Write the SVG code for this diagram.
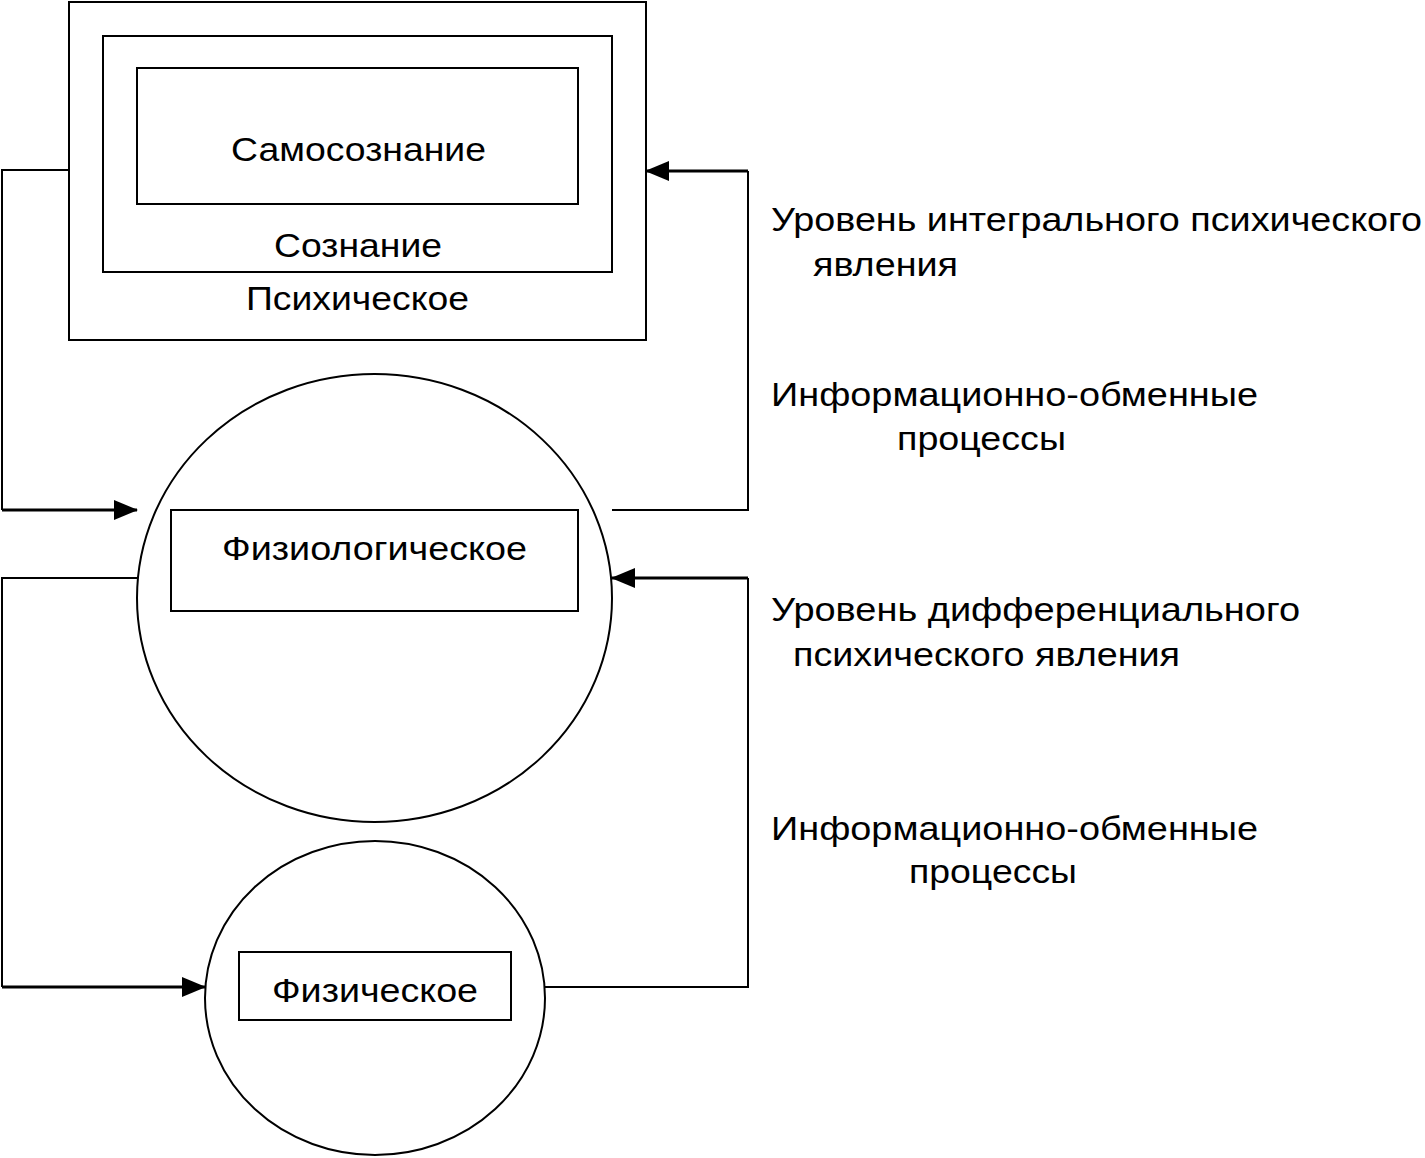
<svg xmlns="http://www.w3.org/2000/svg" width="1425" height="1158" viewBox="0 0 1425 1158">
<style>
.s{fill:none;stroke:#000;stroke-width:2}
.a{fill:none;stroke:#000;stroke-width:3}
text{font-family:"Liberation Sans",Arial,sans-serif;font-size:33px;fill:#000}
</style>
<defs>
<marker id="ab" markerWidth="24" markerHeight="20" refX="23" refY="10" orient="auto" markerUnits="userSpaceOnUse"><path d="M0,0L24,10L0,20z" fill="#000"/></marker></defs>
<rect width="1425" height="1158" fill="#fff"/>
<g id="psych"><rect class="s" x="69" y="2" width="577" height="338"/><text x="246" y="310" textLength="223" lengthAdjust="spacingAndGlyphs">Психическое</text></g>
<g id="conscious"><rect class="s" x="103" y="36" width="509" height="236"/><text x="274" y="257" textLength="168" lengthAdjust="spacingAndGlyphs">Сознание</text></g>
<g id="self"><rect class="s" x="137" y="68" width="441" height="136"/><text x="231" y="161" textLength="255" lengthAdjust="spacingAndGlyphs">Самосознание</text></g>
<g id="physio"><ellipse class="s" cx="374.5" cy="598" rx="237.5" ry="224"/><rect class="s" x="171" y="510" width="407" height="101"/><text x="222" y="560" textLength="305" lengthAdjust="spacingAndGlyphs">Физиологическое</text></g>
<g id="phys"><ellipse class="s" cx="375" cy="998" rx="170" ry="157"/><rect class="s" x="239" y="952" width="272" height="68"/><text x="272" y="1002" textLength="206" lengthAdjust="spacingAndGlyphs">Физическое</text></g>
<g id="connectors">
<polyline class="s" points="69,170 2,170 2,510"/><line class="a" x1="2" y1="510" x2="137" y2="510" marker-end="url(#ab)"/>
<polyline class="s" points="612,510 748,510 748,171"/><line class="a" x1="748" y1="171" x2="646" y2="171" marker-end="url(#ab)"/>
<polyline class="s" points="137,578 2,578 2,987"/><line class="a" x1="2" y1="987" x2="205" y2="987" marker-end="url(#ab)"/>
<polyline class="s" points="545,987 748,987 748,578"/><line class="a" x1="748" y1="578" x2="612" y2="578" marker-end="url(#ab)"/>
</g>
<g id="labels">
<text x="771" y="231" textLength="651" lengthAdjust="spacingAndGlyphs">Уровень интегрального психического</text>
<text x="813" y="276" textLength="145" lengthAdjust="spacingAndGlyphs">явления</text>
<text x="771" y="406" textLength="487" lengthAdjust="spacingAndGlyphs">Информационно-обменные</text>
<text x="897" y="450" textLength="169" lengthAdjust="spacingAndGlyphs">процессы</text>
<text x="771" y="621" textLength="529" lengthAdjust="spacingAndGlyphs">Уровень дифференциального</text>
<text x="793" y="666" textLength="387" lengthAdjust="spacingAndGlyphs">психического явления</text>
<text x="771" y="840" textLength="487" lengthAdjust="spacingAndGlyphs">Информационно-обменные</text>
<text x="909" y="883" textLength="168" lengthAdjust="spacingAndGlyphs">процессы</text>
</g>
</svg>
